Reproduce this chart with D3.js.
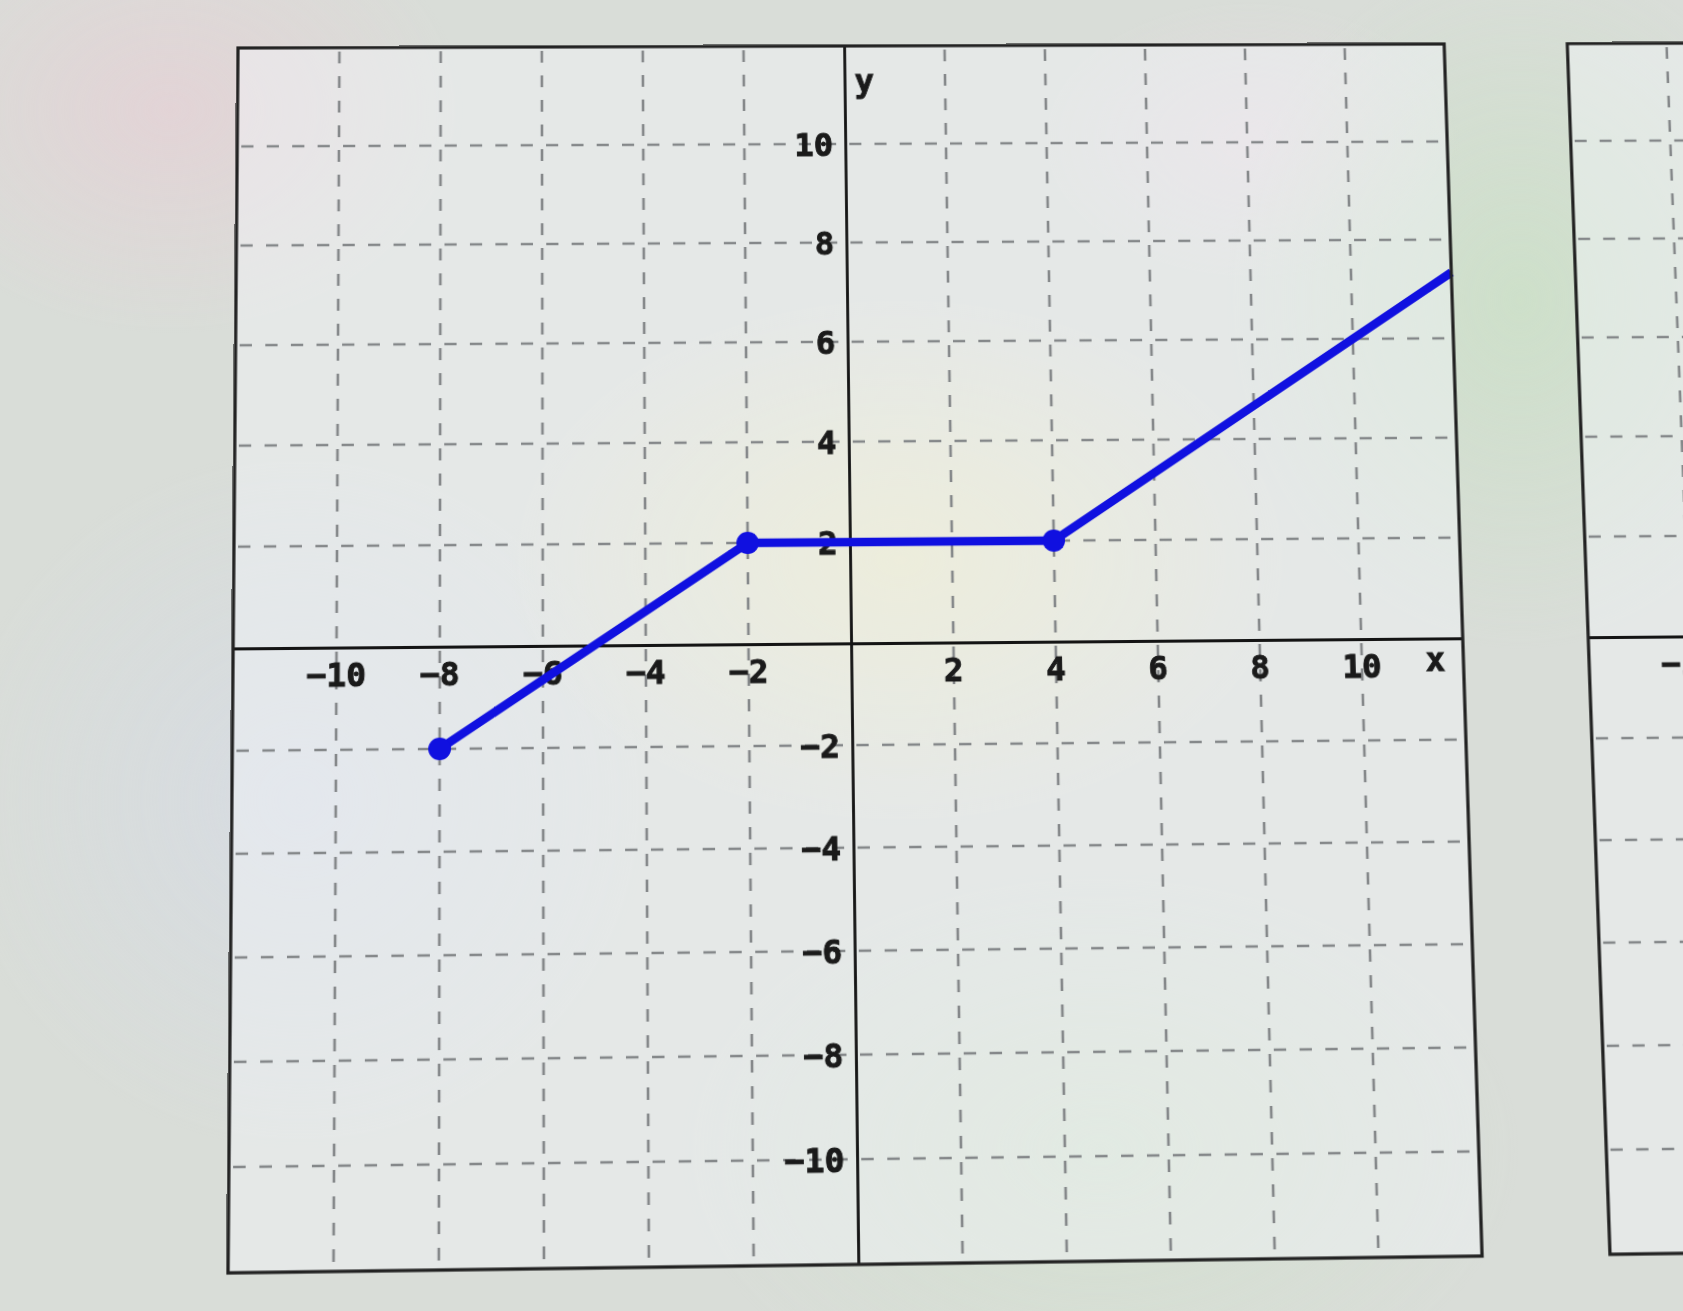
<!DOCTYPE html>
<html>
<head>
<meta charset="utf-8">
<script src="https://cdn.jsdelivr.net/npm/d3@7"></script>
<style>
html, body { margin: 0; padding: 0; width: 1683px; height: 1311px; overflow: hidden; }
body {
  background:
    radial-gradient(ellipse 420px 320px at 170px 110px, rgba(238,200,212,0.45), rgba(238,200,212,0) 70%),
    radial-gradient(ellipse 560px 380px at 900px 560px, rgba(242,236,180,0.55), rgba(242,236,180,0) 70%),
    radial-gradient(ellipse 420px 500px at 1520px 300px, rgba(196,226,190,0.55), rgba(196,226,190,0) 70%),
    radial-gradient(ellipse 600px 400px at 1100px 1150px, rgba(205,228,198,0.45), rgba(205,228,198,0) 70%),
    radial-gradient(ellipse 500px 500px at 300px 800px, rgba(212,218,238,0.45), rgba(212,218,238,0) 70%),
    radial-gradient(ellipse 300px 200px at 1250px 140px, rgba(236,214,226,0.45), rgba(236,214,226,0) 70%),
    #d9ddd8;
}
#chart { position: absolute; left: 0; top: 0; transform-origin: 0 0; overflow: visible; }
</style>
</head>
<body>
<svg id="chart" width="2000" height="1300"></svg>
<script>
// ---------------- data ----------------
const xDomain = [-12, 12];
const yDomain = [-12, 12];
const xTicks = [-10, -8, -6, -4, -2, 2, 4, 6, 8, 10];
const yTicks = [-10, -8, -6, -4, -2, 2, 4, 6, 8, 10];
const xTickLabels = ["\u221210", "\u22128", "\u22126", "\u22124", "\u22122", "2", "4", "6", "8", "10"];
const yTickLabels = ["\u221210", "\u22128", "\u22126", "\u22124", "\u22122", "2", "4", "6", "8", "10"];
const graphX = [-8, -2, 4, 12];
const graphY = [-2, 2, 2, 7.333];
const dotX = [-8, -2, 4];
const dotY = [-2, 2, 2];
const axisNames = ["x", "y"];

// ---------------- layout ----------------
const S = 1200;                       // local plot box size
// photographed corners of the main box (TL, TR, BR, BL) in page pixels
const quad = [[238, 48], [1444, 44], [1482, 1256], [228, 1273]];
// photographed left edge of the second (cut-off) panel
const panel2Edge = [[1567, 43], [1610, 1254]];

function squareToQuad(p) {
  const [x0, y0] = p[0], [x1, y1] = p[1], [x2, y2] = p[2], [x3, y3] = p[3];
  const dx1 = x1 - x2, dx2 = x3 - x2, dx3 = x0 - x1 + x2 - x3;
  const dy1 = y1 - y2, dy2 = y3 - y2, dy3 = y0 - y1 + y2 - y3;
  const den = dx1 * dy2 - dx2 * dy1;
  const g = (dx3 * dy2 - dx2 * dy3) / den, h = (dx1 * dy3 - dx3 * dy1) / den;
  return {
    A: (x1 - x0 + g * x1) / S, B: (x3 - x0 + h * x3) / S, C: x0,
    D: (y1 - y0 + g * y1) / S, E: (y3 - y0 + h * y3) / S, F: y0,
    G: g / S, H: h / S
  };
}
const M = squareToQuad(quad);
function inv(X, Y) {
  const a = M.A - X * M.G, b = M.B - X * M.H, c = X - M.C;
  const d = M.D - Y * M.G, e = M.E - Y * M.H, f = Y - M.F;
  const det = a * e - b * d;
  return [(c * e - b * f) / det, (a * f - c * d) / det];
}
const svgEl = document.getElementById("chart");
svgEl.style.transform = `matrix3d(${M.A},${M.D},0,${M.G},${M.B},${M.E},0,${M.H},0,0,1,0,${M.C},${M.F},0,1)`;

const p2x = (inv(...panel2Edge[0])[0] + inv(...panel2Edge[1])[0]) / 2;

const svg = d3.select(svgEl);
const x = d3.scaleLinear().domain(xDomain).range([0, S]);
const y = d3.scaleLinear().domain(yDomain).range([S, 0]);

const FONT = "'DejaVu Sans Mono', 'Liberation Mono', monospace";
const INK = "#1a1a1a";

function label(sel) {
  return sel.attr("font-family", FONT).attr("font-weight", "bold")
    .attr("font-size", 32).attr("fill", INK)
    .attr("stroke", INK).attr("stroke-width", 0.9).attr("paint-order", "stroke");
}

function drawPanel(offsetX, withData, xIdx, yIdx, names) {
  const g = svg.append("g").attr("transform", `translate(${offsetX},0)`);
  g.append("rect").attr("x", 0).attr("y", 0).attr("width", S).attr("height", S)
    .attr("fill", "rgba(246,247,252,0.42)");

  // grid
  g.append("g").selectAll("line").data(xTicks).join("line")
    .attr("x1", d => x(d)).attr("x2", d => x(d)).attr("y1", 4).attr("y2", S - 4)
    .attr("stroke", "#85888a").attr("stroke-width", 2.6).attr("stroke-dasharray", "12,13");
  g.append("g").selectAll("line").data(yTicks).join("line")
    .attr("y1", d => y(d)).attr("y2", d => y(d)).attr("x1", 4).attr("x2", S - 4)
    .attr("stroke", "#85888a").attr("stroke-width", 2.6).attr("stroke-dasharray", "12,13");

  // axes
  const xAxis = d3.axisBottom(x).tickValues([]).tickSizeOuter(0);
  const yAxis = d3.axisLeft(y).tickValues([]).tickSizeOuter(0);
  g.append("g").attr("transform", `translate(0,${y(0)})`).call(xAxis)
    .select(".domain").attr("stroke", "#141414").attr("stroke-width", 2.8);
  g.append("g").attr("transform", `translate(${x(0)},0)`).call(yAxis)
    .select(".domain").attr("stroke", "#141414").attr("stroke-width", 2.8);

  // tick labels
  g.append("g").selectAll("text").data(xIdx).join("text")
    .attr("x", i => x(xTicks[i])).attr("y", y(0) + 26).attr("dy", "0.36em")
    .attr("text-anchor", "middle").call(label)
    .text(i => xTickLabels[i]);
  g.append("g").selectAll("text").data(yIdx).join("text")
    .attr("x", x(0) - 12).attr("y", i => y(yTicks[i])).attr("dy", "0.36em")
    .attr("text-anchor", "end").call(label)
    .text(i => yTickLabels[i]);
  if (names) {
    g.append("text").attr("x", x(11.45)).attr("y", y(0) + 20).attr("dy", "0.36em")
      .attr("text-anchor", "middle").call(label).text(axisNames[0]);
    g.append("text").attr("x", x(0) + 10).attr("y", y(11.3)).attr("dy", "0.36em")
      .attr("text-anchor", "start").call(label).text(axisNames[1]);
  }

  if (withData) {
    const pts = graphX.map((v, i) => [v, graphY[i]]);
    const line = d3.line().x(d => x(d[0])).y(d => y(d[1]));
    g.append("path").datum(pts).attr("d", line).attr("fill", "none")
      .attr("stroke", "#1010e0").attr("stroke-width", 8.5).attr("stroke-linejoin", "round");
    g.append("g").selectAll("circle").data(dotX.map((v, i) => [v, dotY[i]])).join("circle")
      .attr("cx", d => x(d[0])).attr("cy", d => y(d[1])).attr("r", 11).attr("fill", "#1010e0");
  }

  // frame
  g.append("rect").attr("x", 0).attr("y", 0).attr("width", S).attr("height", S)
    .attr("fill", "none").attr("stroke", "#222").attr("stroke-width", 3.2);
}

drawPanel(0, true, d3.range(xTicks.length), d3.range(yTicks.length), true);
// second panel, cut off by the right edge of the photo: only its first x label is in view
drawPanel(p2x, false, [0], [], false);
</script>
</body>
</html>
